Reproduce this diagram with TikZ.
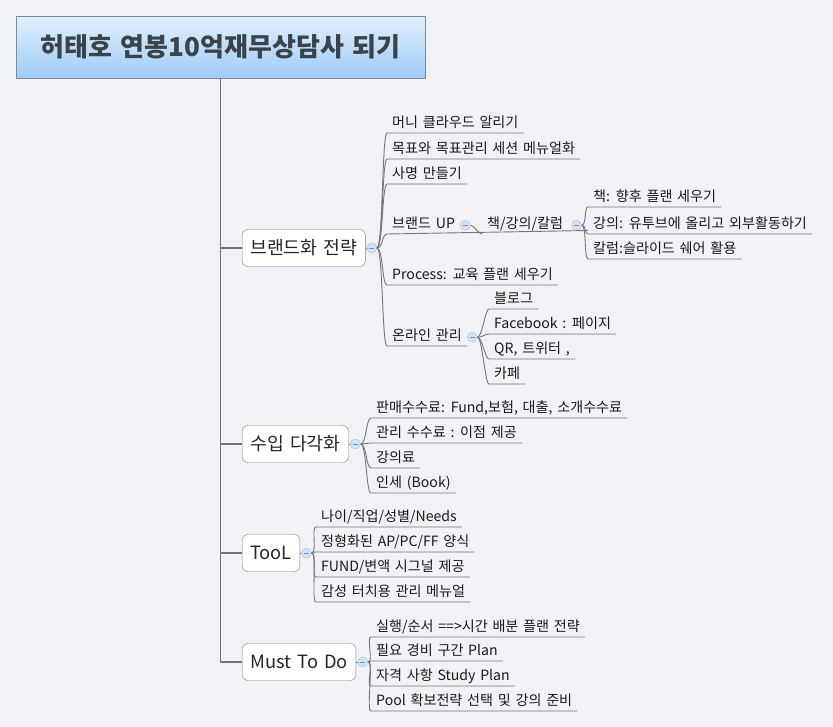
\documentclass[tikz,border=0pt]{standalone}
\usepackage{fontspec}
\setmainfont[WordSpace=1.5]{Noto Sans CJK KR}
\usetikzlibrary{positioning}
\definecolor{pagebg}{RGB}{241,242,246}
\definecolor{rootline}{RGB}{122,138,153}
\definecolor{roottop}{RGB}{226,240,253}
\definecolor{rootbot}{RGB}{158,204,247}
\definecolor{roottext}{RGB}{58,66,74}
\definecolor{trunkline}{RGB}{110,116,122}
\definecolor{subline}{RGB}{118,118,118}
\definecolor{foldfill}{RGB}{210,227,246}
\definecolor{folddraw}{RGB}{160,192,228}

\begin{document}
\begin{tikzpicture}[x=1pt,y=-1pt,line join=round]
  \tikzstyle{root}=[draw=rootline, top color=roottop, bottom color=rootbot, minimum width=409pt,
    minimum height=62pt, inner sep=0pt, font=\fontsize{26}{30}\selectfont\bfseries, text=roottext]
  \tikzstyle{topic}=[draw=black!50, fill=white, rounded corners=6pt, minimum height=37pt,
    inner xsep=8pt, anchor=west, font=\fontsize{18.3}{22}\selectfont, text=black!85]
  \tikzstyle{leaf}=[inner xsep=5pt, inner ysep=2pt, text height=10pt, text depth=3pt,
    anchor=south west, font=\fontsize{14.1}{17}\selectfont, text=black!90]
  \tikzstyle{fold}=[circle, draw=folddraw, fill=foldfill, minimum size=10pt, inner sep=0pt,
    path picture={\draw[folddraw!75!black, line width=0.8pt] ([xshift=-2.5pt]path picture bounding box.center)
      -- ([xshift=2.5pt]path picture bounding box.center);}]
  \tikzstyle{trunk}=[draw=trunkline, line width=1.1pt]
  \tikzstyle{sub}=[draw=subline, line width=0.9pt]

  \fill[pagebg] (0,0) rectangle (833,727);

  \node[root] (root) at (220.5,47) {허태호 연봉10억재무상담사 되기};

  \node[topic] (brand) at (242,248) {브랜드화 전략};
  \node[topic] (income) at (242,444) {수입 다각화};
  \node[topic] (tool) at (242,553) {TooL};
  \node[topic] (must) at (242,662) {Must To Do};

  \node[fold, right=1pt of brand] (brandc) {};
  \node[fold, right=1.5pt of income] (incomec) {};
  \node[fold, right=1pt of tool] (toolc) {};
  \node[fold, right=1.5pt of must] (mustc) {};

  \draw[trunk] (root.south) -- (root.south |- must.west) -- (must.west);
  \draw[trunk] (root.south |- brand.west) -- (brand.west);
  \draw[trunk] (root.south |- income.west) -- (income.west);
  \draw[trunk] (root.south |- tool.west) -- (tool.west);
  \draw[sub] (brand.east) -- (brandc.west);
  \draw[sub] (income.east) -- (incomec.west);
  \draw[sub] (tool.east) -- (toolc.west);
  \draw[sub] (must.east) -- (mustc.west);

  \node[leaf] (money) at (387,133) {머니 클라우드 알리기};
  \node[leaf] (goal) at (387,159) {목표와 목표관리 세션 메뉴얼화};
  \node[leaf] (mission) at (387,184) {사명 만들기};
  \node[leaf] (brandup) at (387,234) {브랜드 UP};
  \node[leaf] (process) at (387,285) {Process: 교육 플랜 세우기};
  \node[leaf] (online) at (387,346) {온라인 관리};

  \node[fold, right=0pt of brandup] (brandupc) {};
  \node[leaf] (media) at (482,234) {책/강의/칼럼};
  \node[fold, right=3pt of media] (mediac) {};
  \node[leaf] (book) at (588,207) {책: 향후 플랜 세우기};
  \node[leaf] (lecture) at (588,234) {강의: 유투브에 올리고 외부활동하기};
  \node[leaf] (column) at (588,259) {칼럼:슬라이드 쉐어 활용};

  \node[fold, right=0pt of online] (onlinec) {};
  \node[leaf] (blog) at (489,309) {블로그};
  \node[leaf] (facebook) at (489,334) {Facebook : 페이지};
  \node[leaf] (qr) at (489,359) {QR, 트위터 ,};
  \node[leaf] (cafe) at (489,384) {카페};

  \node[leaf] (sales) at (371,418) {판매수수료: Fund,보험, 대출, 소개수수료};
  \node[leaf] (manage) at (371,443) {관리 수수료 : 이점 제공};
  \node[leaf] (fee) at (371,468) {강의료};
  \node[leaf] (royalty) at (371,493) {인세 (Book)};

  \node[leaf] (needs) at (316,527) {나이/직업/성별/Needs};
  \node[leaf] (form) at (316,552) {정형화된 AP/PC/FF 양식};
  \node[leaf] (signal) at (316,577) {FUND/변액 시그널 제공};
  \node[leaf] (touch) at (316,602) {감성 터치용 관리 메뉴얼};

  \node[leaf] (plan) at (371,637) {실행/순서 ==>시간 배분 플랜 전략};
  \node[leaf] (cost) at (371,661) {필요 경비 구간 Plan};
  \node[leaf] (study) at (371,686) {자격 사항 Study Plan};
  \node[leaf] (pool) at (371,711) {Pool 확보전략 선택 및 강의 준비};

  \draw[sub] (brandc.east) .. controls +(6,0) and +(-5,0) .. (money.south west) -- (money.south east);
  \draw[sub] (brandc.east) .. controls +(6,0) and +(-5,0) .. (goal.south west) -- (goal.south east);
  \draw[sub] (brandc.east) .. controls +(6,0) and +(-5,0) .. (mission.south west) -- (mission.south east);
  \draw[sub] (brandc.east) .. controls +(6,0) and +(-5,0) .. (brandup.south west) -- (mediac.south -| lecture.south west);
  \draw[sub] (brandc.east) .. controls +(6,0) and +(-5,0) .. (process.south west) -- (process.south east);
  \draw[sub] (brandc.east) .. controls +(6,0) and +(-5,0) .. (online.south west) -- (online.south east);
  \draw[sub] (brandupc.east) .. controls +(4,0) and +(-4,0) .. (media.south west);

  \draw[sub] (mediac.east) .. controls +(5,0) and +(-4,0) .. (book.south west) -- (book.south east);
  \draw[sub] (mediac.east) .. controls +(5,0) and +(-4,0) .. (lecture.south west) -- (lecture.south east);
  \draw[sub] (mediac.east) .. controls +(5,0) and +(-4,0) .. (column.south west) -- (column.south east);

  \draw[sub] (onlinec.east) .. controls +(5,0) and +(-4,0) .. (blog.south west) -- (blog.south east);
  \draw[sub] (onlinec.east) .. controls +(5,0) and +(-4,0) .. (facebook.south west) -- (facebook.south east);
  \draw[sub] (onlinec.east) .. controls +(5,0) and +(-4,0) .. (qr.south west) -- (qr.south east);
  \draw[sub] (onlinec.east) .. controls +(5,0) and +(-4,0) .. (cafe.south west) -- (cafe.south east);

  \draw[sub] (incomec.east) .. controls +(6,0) and +(-5,0) .. (sales.south west) -- (sales.south east);
  \draw[sub] (incomec.east) .. controls +(6,0) and +(-5,0) .. (manage.south west) -- (manage.south east);
  \draw[sub] (incomec.east) .. controls +(6,0) and +(-5,0) .. (fee.south west) -- (fee.south east);
  \draw[sub] (incomec.east) .. controls +(6,0) and +(-5,0) .. (royalty.south west) -- (royalty.south east);

  \draw[sub] (toolc.east) .. controls +(6,0) and +(-5,0) .. (needs.south west) -- (needs.south east);
  \draw[sub] (toolc.east) .. controls +(6,0) and +(-5,0) .. (form.south west) -- (form.south east);
  \draw[sub] (toolc.east) .. controls +(6,0) and +(-5,0) .. (signal.south west) -- (signal.south east);
  \draw[sub] (toolc.east) .. controls +(6,0) and +(-5,0) .. (touch.south west) -- (touch.south east);

  \draw[sub] (mustc.east) .. controls +(6,0) and +(-5,0) .. (plan.south west) -- (plan.south east);
  \draw[sub] (mustc.east) .. controls +(6,0) and +(-5,0) .. (cost.south west) -- (cost.south east);
  \draw[sub] (mustc.east) .. controls +(6,0) and +(-5,0) .. (study.south west) -- (study.south east);
  \draw[sub] (mustc.east) .. controls +(6,0) and +(-5,0) .. (pool.south west) -- (pool.south east);
\end{tikzpicture}
\end{document}
